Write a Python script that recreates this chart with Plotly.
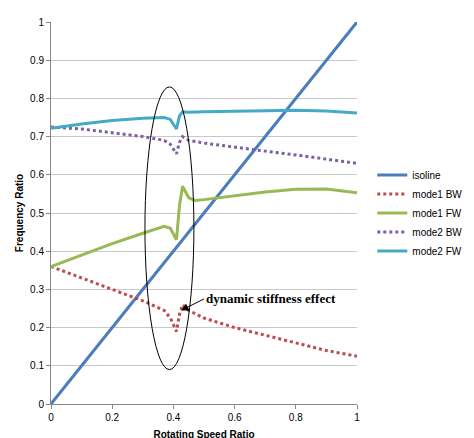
import plotly.graph_objects as go

x_iso = [0, 1]
y_iso = [0, 1]

x_m1bw = [0, 0.1, 0.2, 0.3, 0.37, 0.39, 0.41, 0.42, 0.43, 0.45, 0.5, 0.6, 0.7, 0.8, 0.9, 1.0]
y_m1bw = [0.36, 0.33, 0.30, 0.27, 0.245, 0.225, 0.19, 0.235, 0.26, 0.245, 0.225, 0.20, 0.18, 0.16, 0.14, 0.125]

x_m1fw = [0, 0.1, 0.2, 0.3, 0.37, 0.39, 0.41, 0.42, 0.43, 0.45, 0.47, 0.5, 0.6, 0.7, 0.8, 0.9, 1.0]
y_m1fw = [0.36, 0.39, 0.42, 0.447, 0.465, 0.46, 0.43, 0.52, 0.57, 0.54, 0.533, 0.535, 0.545, 0.555, 0.562, 0.563, 0.553]

x_m2bw = [0, 0.1, 0.2, 0.3, 0.37, 0.39, 0.41, 0.42, 0.43, 0.45, 0.5, 0.6, 0.7, 0.8, 0.9, 1.0]
y_m2bw = [0.725, 0.72, 0.71, 0.70, 0.69, 0.68, 0.655, 0.685, 0.70, 0.69, 0.683, 0.672, 0.662, 0.652, 0.641, 0.63]

x_m2fw = [0, 0.1, 0.2, 0.3, 0.37, 0.39, 0.41, 0.42, 0.43, 0.45, 0.5, 0.6, 0.7, 0.8, 0.9, 1.0]
y_m2fw = [0.722, 0.733, 0.742, 0.748, 0.75, 0.745, 0.72, 0.755, 0.765, 0.764, 0.765, 0.767, 0.768, 0.769, 0.767, 0.762]

fig = go.Figure()
fig.add_trace(go.Scatter(x=x_iso, y=y_iso, mode="lines", name="isoline",
                         line=dict(color="#4a7ebb", width=3)))
fig.add_trace(go.Scatter(x=x_m1bw, y=y_m1bw, mode="lines", name="mode1 BW",
                         line=dict(color="#be4b48", width=3, dash="dot")))
fig.add_trace(go.Scatter(x=x_m1fw, y=y_m1fw, mode="lines", name="mode1 FW",
                         line=dict(color="#98b954", width=3)))
fig.add_trace(go.Scatter(x=x_m2bw, y=y_m2bw, mode="lines", name="mode2 BW",
                         line=dict(color="#7d60a0", width=3, dash="dot")))
fig.add_trace(go.Scatter(x=x_m2fw, y=y_m2fw, mode="lines", name="mode2 FW",
                         line=dict(color="#46aac5", width=3)))

# ellipse around the dynamic stiffness region
fig.add_shape(type="circle", xref="x", yref="y", x0=0.307, x1=0.467, y0=0.09, y1=0.83,
              line=dict(color="black", width=1))

fig.add_annotation(x=0.425, y=0.245, ax=0.5, ay=0.275, xref="x", yref="y", axref="x", ayref="y",
                   text="<b>dynamic stiffness effect</b>", xanchor="left", showarrow=True,
                   arrowhead=2, arrowsize=1.5, arrowwidth=1, arrowcolor="black",
                   font=dict(family="Liberation Serif", size=13, color="black"))

fig.update_layout(
    width=474, height=438,
    margin=dict(l=43, r=125, t=14, b=42, autoexpand=False),
    plot_bgcolor="white", paper_bgcolor="white",
    font=dict(family="Liberation Sans", size=10, color="black"),
    legend=dict(x=1.05, y=0.5, yanchor="middle", font=dict(size=10),
                tracegroupgap=8),
    xaxis=dict(range=[0, 1], dtick=0.2, showgrid=False, zeroline=False, automargin=False,
               showline=True, linecolor="#888", ticks="outside", ticklen=4, tickcolor="#888",
               title=dict(text="<b>Rotating Speed Ratio</b>", font=dict(size=10), standoff=8)),
    yaxis=dict(range=[0, 1], dtick=0.1, gridcolor="#c8c8c8", zeroline=False, automargin=False,
               showline=True, linecolor="#888", ticks="outside", ticklen=4, tickcolor="#888",
               title=dict(text="<b>Frequency Ratio</b>", font=dict(size=10), standoff=4)),
)

fig.write_html("out.html")
